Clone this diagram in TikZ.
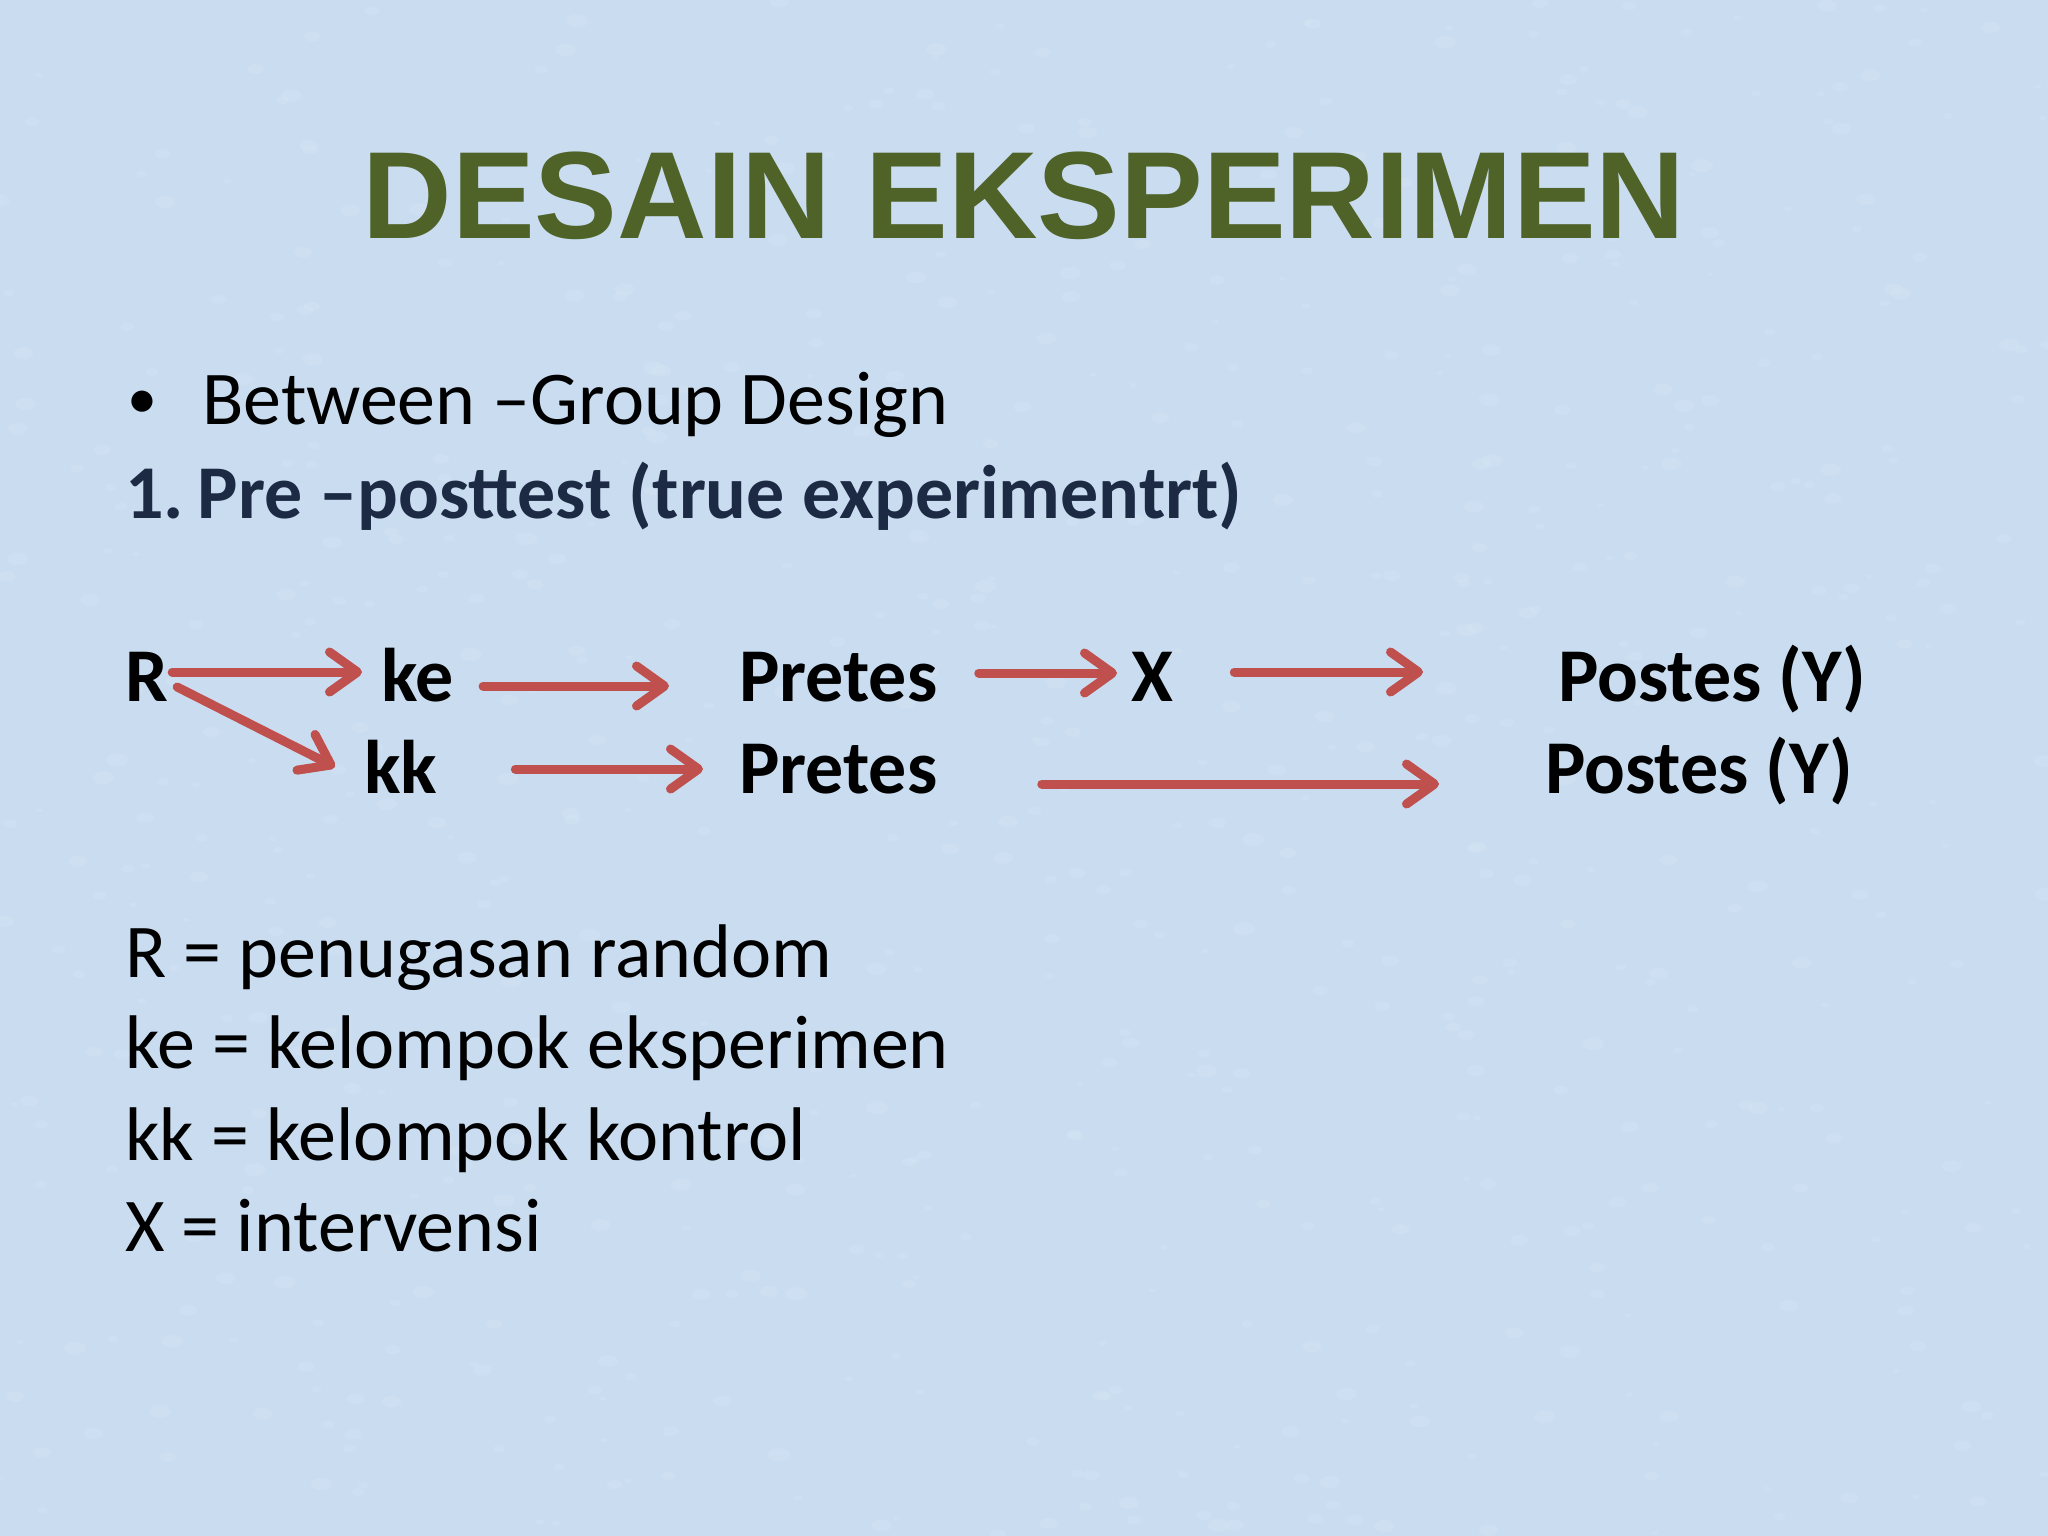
\documentclass[tikz,border=0pt]{standalone}
\usepackage{fontspec}
\setmainfont{Carlito}
\newfontfamily\titlefont{Liberation Sans}
\usetikzlibrary{arrows.meta}
\definecolor{bgblue}{RGB}{202,221,240}
\definecolor{titlegreen}{RGB}{79,98,40}
\definecolor{subnavy}{RGB}{28,42,68}
\definecolor{arrred}{RGB}{192,80,77}
\tikzset{
  txt/.style={anchor=base west, inner sep=0pt, font=\fontsize{76}{90}\selectfont},
  dtxt/.style={txt, font=\fontsize{76}{90}\selectfont\bfseries, text height=50pt, text depth=0pt},
  arr/.style={draw=arrred, line width=9pt, line cap=round, -{Straight Barb[round,length=28pt,width=40pt]},
    preaction={draw=black!70, opacity=0.25, transform canvas={shift={(2pt,-4pt)}}}}
}
\begin{document}
\begin{tikzpicture}[x=1pt,y=-1pt]
\fill[bgblue] (0,0) rectangle (2048,1536);
\useasboundingbox (0,0) rectangle (2048,1536);
% subtle texture
\pgfmathsetseed{7}
\foreach \i in {1,...,700}{
  \pgfmathsetmacro{\px}{rnd*2048}
  \pgfmathsetmacro{\py}{rnd*1536}
  \pgfmathsetmacro{\pr}{3+rnd*8}
  \fill[white, opacity=0.07] (\px,\py) ellipse[x radius=\pr pt, y radius=0.6*\pr pt];
}
% title
\node[anchor=base, inner sep=0pt, text=titlegreen, font=\titlefont\bfseries\fontsize{124}{140}\selectfont] (title) at (1024,238) {DESAIN EKSPERIMEN};
% bullet line
\node[anchor=base west, inner sep=0pt, font=\fontsize{60}{70}\selectfont] (bul) at (127,418) {•};
\node[txt] (between) at (202,424) {Between –Group Design};
\node[txt, font=\fontsize{76}{90}\selectfont\bfseries, text=subnavy] (sub) at (125,518) {1.\hspace{-0.12em} Pre –posttest (true experimentrt)};
% diagram row 1
\node[dtxt] (R) at (125,701) {R};
\node[dtxt] (ke) at (381,701) {ke};
\node[dtxt] (pre1) at (739,701) {Pretes};
\node[dtxt] (X) at (1131,701) {X};
\node[dtxt] (post1) at (1558,701) {Postes (Y)};
% diagram row 2
\node[dtxt] (kk) at (364,793) {kk};
\node[dtxt] (pre2) at (739,793) {Pretes};
\node[dtxt] (post2) at (1545,793) {Postes (Y)};
% arrows
\draw[arr, shorten <=4pt, shorten >=19pt] ([yshift=4pt]R.east) -- ([yshift=4pt]ke.west);
\draw[arr] ([xshift=9pt,yshift=-11pt]R.east) -- ([xshift=-29pt,yshift=1pt]kk.west);
\draw[arr, shorten <=29pt, shorten >=70pt] ([yshift=-10pt]ke.east) -- ([yshift=-10pt]pre1.west);
\draw[arr, shorten <=78pt, shorten >=36pt] ([yshift=-1pt]kk.east) -- ([yshift=-1pt]pre2.west);
\draw[arr, shorten <=41pt, shorten >=14pt] ([yshift=3pt]pre1.east) -- ([yshift=3pt]X.west);
\draw[arr, shorten <=61pt, shorten >=135pt] ([yshift=4pt]X.east) -- ([yshift=4pt]post1.west);
\draw[arr, shorten <=104pt, shorten >=106pt] ([yshift=-16pt]pre2.east) -- ([yshift=-16pt]post2.west);
% legend
\node[txt] (l1) at (125,977) {R = penugasan random};
\node[txt] (l2) at (125,1068) {ke = kelompok eksperimen};
\node[txt] (l3) at (125,1160) {kk = kelompok kontrol};
\node[txt] (l4) at (125,1251) {X = intervensi};
\end{tikzpicture}
\end{document}
